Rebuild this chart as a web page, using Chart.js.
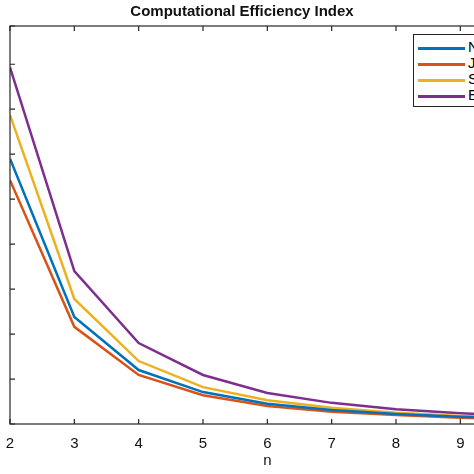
<!DOCTYPE html>
<html><head><meta charset="utf-8">
<script src="https://cdn.jsdelivr.net/npm/chart.js@4/dist/chart.umd.min.js"></script>
<style>
body{margin:0;overflow:hidden;background:#fff;width:474px;height:474px;position:relative;font-family:"Liberation Sans",Arial,sans-serif}
#wrap{position:absolute;left:0;top:0;width:536px;height:474px}
#title{position:absolute;top:2px;left:0;width:484px;text-align:center;font-weight:bold;font-size:15px;color:#111}
#legend{position:absolute;left:413px;top:34px;width:120px;height:73px;border:1px solid #222;background:#fff;font-size:15px;box-sizing:border-box;padding:4px 0 0 4px}
#legend div{height:16px;line-height:16px;white-space:nowrap}
#legend span{display:inline-block;width:47px;height:3px;vertical-align:middle;margin-right:3px}
</style></head>
<body>
<div id="wrap"><canvas id="c" width="536" height="474"></canvas></div>
<div id="title">Computational Efficiency Index</div>
<div id="legend"></div>
<script>
'use strict';
const nValues = [2, 3, 4, 5, 6, 7, 8, 9, 10];
const seriesNames = ['Newton', 'Jarratt', 'Sharma', 'Euler'];
const seriesColors = ['#0072BD', '#D95319', '#EDB120', '#7E2F8E'];
const newton = [5.9, 2.38, 1.2, 0.71, 0.45, 0.31, 0.22, 0.16, 0.12];
const jarratt = [5.42, 2.16, 1.09, 0.64, 0.4, 0.27, 0.2, 0.14, 0.1];
const sharma = [6.87, 2.78, 1.4, 0.82, 0.53, 0.36, 0.25, 0.18, 0.14];
const euler = [7.93, 3.4, 1.8, 1.09, 0.69, 0.47, 0.33, 0.24, 0.18];
const seriesValues = [newton, jarratt, sharma, euler];
const xTickLabels = ['2', '3', '4', '5', '6', '7', '8', '9', '10'];

const legend = document.getElementById('legend');
seriesNames.forEach((name, i) => {
    const row = document.createElement('div');
    row.innerHTML = '<span style="background:' + seriesColors[i] + '"></span>' + name;
    legend.appendChild(row);
});

// frame and inward ticks, like a MATLAB axes box
const boxPlugin = {
    id: 'box',
    afterDraw(chart) {
        const ctx = chart.ctx, a = chart.chartArea;
        ctx.save();
        ctx.strokeStyle = '#262626';
        ctx.lineWidth = 1.2;
        ctx.strokeRect(a.left, a.top, a.right - a.left, a.bottom - a.top);
        const xs = chart.scales.x, ys = chart.scales.y;
        ctx.beginPath();
        xs.ticks.forEach(t => {
            const px = xs.getPixelForValue(t.value);
            ctx.moveTo(px, a.bottom); ctx.lineTo(px, a.bottom - 5);
            ctx.moveTo(px, a.top); ctx.lineTo(px, a.top + 5);
        });
        ys.ticks.forEach(t => {
            const py = ys.getPixelForValue(t.value);
            ctx.moveTo(a.left, py); ctx.lineTo(a.left + 5, py);
        });
        ctx.stroke();
        ctx.restore();
    }
};

new Chart(document.getElementById('c'), {
    type: 'line',
    data: {
        datasets: seriesValues.map((vals, i) => ({
            label: seriesNames[i],
            data: vals.map((v, j) => ({x: nValues[j], y: v})),
            borderColor: seriesColors[i],
            borderWidth: 2.5,
            pointRadius: 0,
            tension: 0,
            fill: false
        }))
    },
    options: {
        responsive: false,
        animation: false,
        layout: {padding: {left: 10, top: 26, right: 10, bottom: 0}},
        plugins: {legend: {display: false}, tooltip: {enabled: false}},
        scales: {
            x: {
                type: 'linear', min: 2, max: 10,
                grid: {display: false},
                border: {display: false},
                ticks: {stepSize: 1, color: '#111', font: {size: 15, family: 'Liberation Sans'},
                    callback: (v) => xTickLabels[nValues.indexOf(v)]},
                title: {display: true, text: 'n', color: '#111', font: {size: 15, family: 'Liberation Sans'}, padding: {top: 2}},
                afterFit: (s) => { s.height = 50; }
            },
            y: {
                min: 0, max: 8.85,
                grid: {display: false},
                border: {display: false},
                ticks: {stepSize: 1, display: false},
                afterFit: (s) => { s.width = 0; }
            }
        }
    },
    plugins: [boxPlugin]
});
</script>
</body></html>
